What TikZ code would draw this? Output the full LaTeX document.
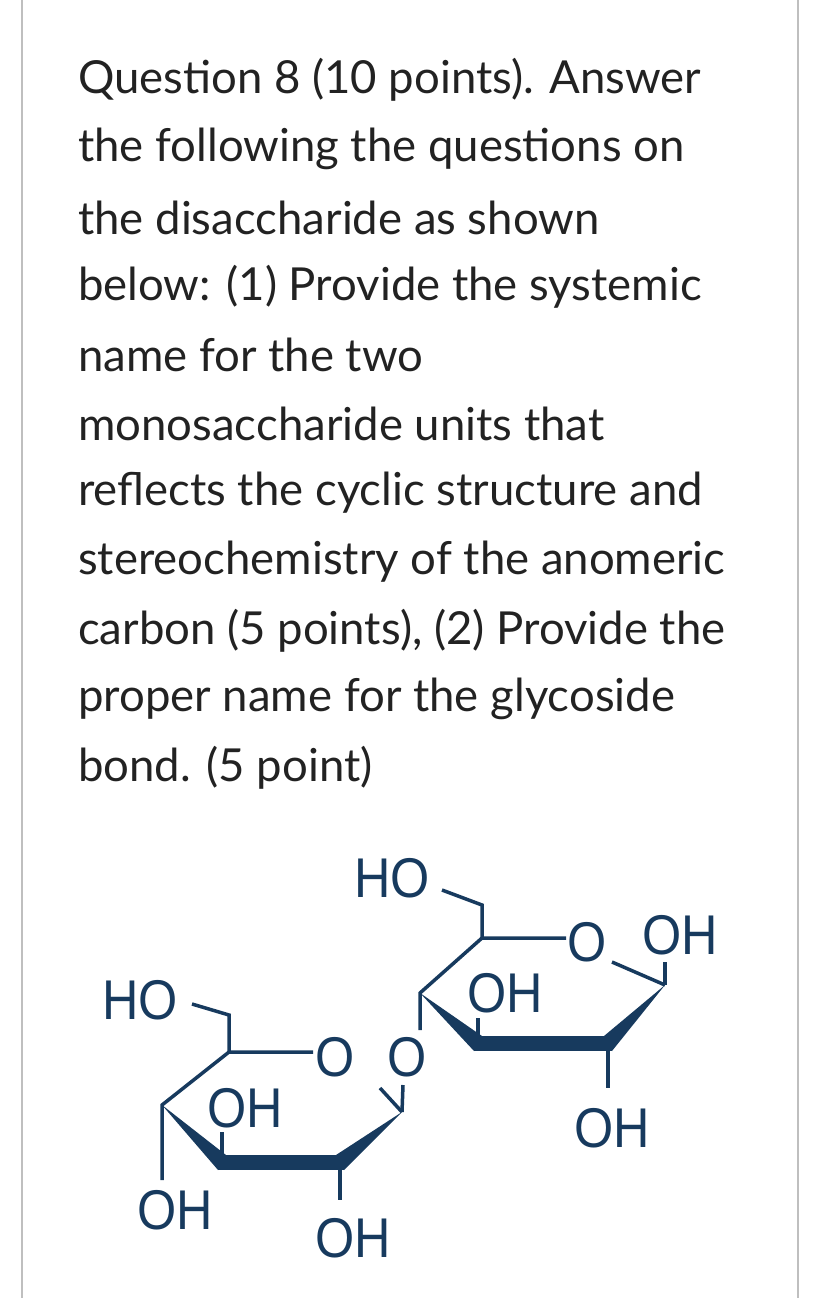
\documentclass[tikz,border=0pt]{standalone}
\usepackage{fontspec}
\setmainfont{Lato}
\newfontfamily\chemf{Liberation Sans}
\definecolor{navy}{HTML}{173A5E}
\definecolor{ink}{HTML}{222222}
\begin{document}
\begin{tikzpicture}[x=1pt,y=-1pt,
  txt/.style={anchor=west,font=\fontsize{45.5}{46}\selectfont,text=ink,inner sep=0},
  lab/.style={font=\chemf\fontsize{56}{56}\selectfont,text=navy,inner sep=1pt,xscale=0.9},
  bd/.style={draw=navy,line width=3.5pt},
  wd/.style={fill=navy}]
\useasboundingbox (0,0) rectangle (820,1298);
\draw[gray!50,line width=1.5pt] (22,0)--(22,1298) (798,0)--(798,1298);
\foreach \t [count=\i] in {Question 8 (10 points). Answer,the following the questions on,the disaccharide as shown,below: (1) Provide the systemic,name for the two,monosaccharide units that,reflects the cyclic structure and,stereochemistry of the anomeric,carbon (5 points)\rlap{,} \hphantom{,}(2) Provide the,proper name for the glycoside,bond. (5 point)}
  \node[txt] (t\i) at (78,{80+68.8*(\i-1)}) {\t};
% left ring
\node[lab] (ho1) at (140,1000) {HO};
\node[lab] (o1) at (335,1057) {O};
\node[lab] (ob) at (407,1057) {O};
\node[lab] (oh1) at (245,1108) {OH};
\node[lab] (oh2) at (175,1210) {OH};
\node[lab] (oh3) at (353,1238) {OH};
\coordinate (c5) at (229,1052);
\coordinate (c6) at (229,1015);
\coordinate (c4) at (162,1105);
\coordinate (c3) at (222,1162);
\coordinate (c2) at (340,1162);
\coordinate (c1) at (402,1112);
\draw[bd] (192,1004)--(c6)--(c5)--(313,1052);
\draw[bd] (c5)--(c4)--(162,1180);
\draw[bd] (c3)--(222,1132);
\draw[bd] (c2)--(340,1200);
\draw[bd] (c1)--(380,1088);
\draw[bd] (c1)--(403,1085);
\fill[navy] (c4)--(226,1155)--(218,1170)--cycle;
\fill[navy] (218,1155) rectangle (344,1170);
\fill[navy] (336,1155)--(344,1170)--(c1)--cycle;
% right ring
\node[lab] (ho2) at (392,878) {HO};
\node[lab] (o2) at (587,942) {O};
\node[lab] (oh4) at (680,935) {OH};
\node[lab] (oh5) at (505,993) {OH};
\node[lab] (oh6) at (612,1128) {OH};
\coordinate (d5) at (482,938);
\coordinate (d6) at (482,905);
\coordinate (d4) at (420,993);
\coordinate (d3) at (478,1043);
\coordinate (d2) at (608,1043);
\coordinate (d1) at (665,985);
\draw[bd] (442,890)--(d6)--(d5)--(566,938);
\draw[bd] (d5)--(d4)--(420,1030);
\draw[bd] (d3)--(478,1018);
\draw[bd] (d2)--(608,1088);
\draw[bd] (d1)--(612,962);
\draw[bd] (d1)--(665,962);
\fill[navy] (d4)--(482,1036)--(474,1051)--cycle;
\fill[navy] (474,1036) rectangle (612,1051);
\fill[navy] (604,1036)--(612,1051)--(d1)--cycle;
\end{tikzpicture}
\end{document}
